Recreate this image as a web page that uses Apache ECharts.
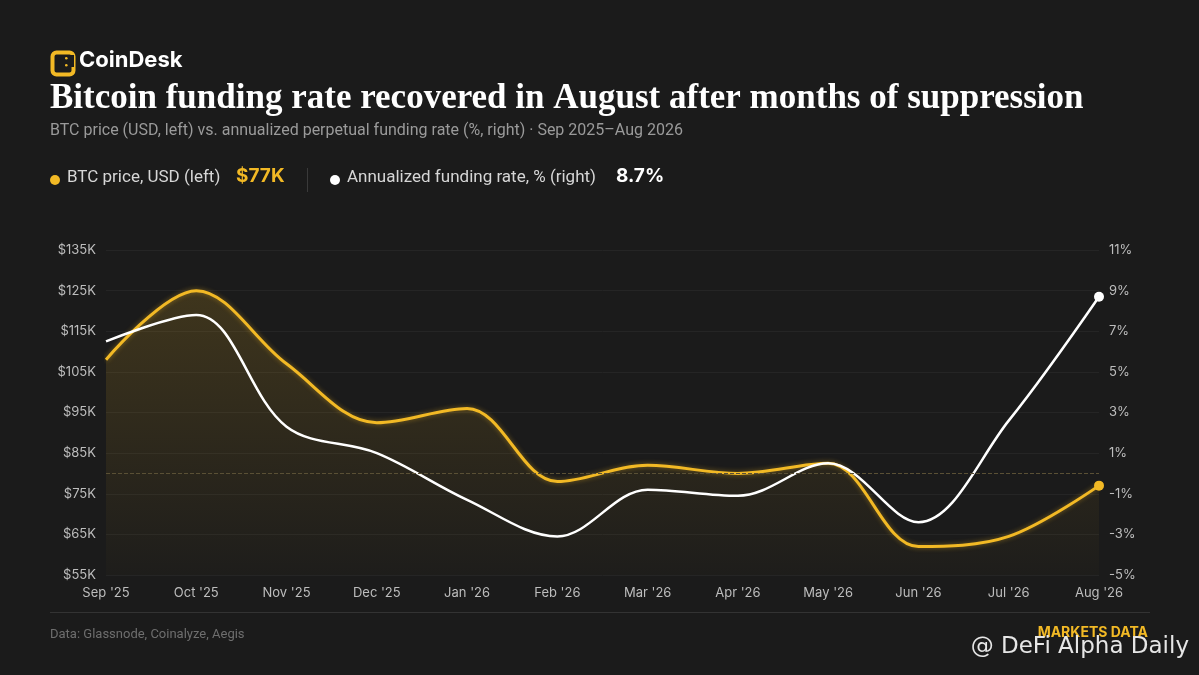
<!DOCTYPE html>
<html>
<head>
<meta charset="utf-8">
<script src="https://cdn.jsdelivr.net/npm/echarts@6/dist/echarts.min.js"></script>
<style>
  html, body { margin: 0; padding: 0; background: #1b1b1b; }
  #chart { width: 1199px; height: 675px; }
</style>
</head>
<body>
<div id="chart"></div>
<script>
// months on the x axis
var months = ["Sep '25", "Oct '25", "Nov '25", "Dec '25", "Jan '26", "Feb '26",
  "Mar '26", "Apr '26", "May '26", "Jun '26", "Jul '26", "Aug '26"];
// BTC price in thousands of USD (left axis)
var btcPrice = [108, 125, 107, 92.5, 96, 78, 82, 80, 82.5, 62, 64.5, 77];
// annualized funding rate in % (right axis)
var fundingRate = [6.5, 7.8, 2.3, 1.0, -1.3, -3.1, -0.8, -1.1, 0.5, -2.4, 2.6, 8.7];

var gold = '#f2b925';
var titleText = 'Bitcoin funding rate recovered in August after months of suppression';

// fit the serif title to the width it has in the original (~1033px)
var ctx = document.createElement('canvas').getContext('2d');
var titleSize = 37;
while (titleSize > 20) {
  ctx.font = 'bold ' + titleSize + 'px "Liberation Serif", serif';
  if (ctx.measureText(titleText).width <= 1034) break;
  titleSize -= 0.25;
}

var mychart = echarts.init(document.getElementById('chart'));
var last = months.length - 1;

function lastDot(arr) {
  return arr.map(function (v, i) {
    return i === last ? { value: v, symbol: 'circle', symbolSize: 10 } : v;
  });
}

var option = {
  backgroundColor: '#1b1b1b',
  animation: false,
  textStyle: { fontFamily: 'Inter, Roboto, sans-serif' },
  grid: { left: 106, right: 100, top: 250, bottom: 100 },
  xAxis: {
    type: 'category',
    data: months,
    boundaryGap: false,
    axisLine: { show: false },
    axisTick: { show: false },
    axisLabel: { color: '#bdbdbd', fontSize: 13, margin: 12 }
  },
  yAxis: [
    {
      type: 'value',
      min: 55, max: 135, interval: 10,
      axisLabel: { color: '#bdbdbd', fontSize: 13, margin: 10, formatter: function (v) { return '$' + v + 'K'; } },
      axisLine: { show: false },
      axisTick: { show: false },
      splitLine: { lineStyle: { color: '#252525', width: 1 } }
    },
    {
      type: 'value',
      min: -5, max: 11, interval: 2,
      axisLabel: { color: '#bdbdbd', fontSize: 13, margin: 10, formatter: '{value}%' },
      axisLine: { show: false },
      axisTick: { show: false },
      splitLine: { show: false }
    }
  ],
  series: [
    {
      name: 'BTC price, USD (left)',
      type: 'line',
      yAxisIndex: 0,
      smooth: 0.35,
      data: lastDot(btcPrice),
      symbol: 'none',
      itemStyle: { color: gold },
      lineStyle: { color: gold, width: 3, shadowColor: 'rgba(242,185,37,0.45)', shadowBlur: 5 },
      areaStyle: {
        color: new echarts.graphic.LinearGradient(0, 0, 0, 1, [
          { offset: 0, color: 'rgba(242,185,37,0.24)' },
          { offset: 1, color: 'rgba(242,185,37,0.02)' }
        ])
      },
      z: 2
    },
    {
      name: 'Annualized funding rate, % (right)',
      type: 'line',
      yAxisIndex: 1,
      smooth: 0.35,
      data: lastDot(fundingRate),
      symbol: 'none',
      itemStyle: { color: '#ffffff' },
      lineStyle: { color: '#ffffff', width: 2.5 },
      markLine: {
        silent: true,
        symbol: 'none',
        label: { show: false },
        lineStyle: { color: '#5a5035', type: 'dashed', width: 1 },
        data: [{ yAxis: 0 }]
      },
      z: 3
    }
  ],
  graphic: [
    // logo
    { type: 'rect', left: 50, top: 50, shape: { width: 21, height: 22, r: 4 }, style: { fill: 'none', stroke: gold, lineWidth: 4 } },
    { type: 'rect', left: 62, top: 55, shape: { width: 12, height: 12 }, style: { fill: '#1b1b1b' } },
    { type: 'circle', left: 65, top: 57, shape: { r: 1.3 }, style: { fill: gold } },
    { type: 'circle', left: 65, top: 64, shape: { r: 1.3 }, style: { fill: gold } },
    { type: 'text', left: 79, top: 49, style: { text: 'CoinDesk', fill: '#ffffff', font: 'bold 22px Inter, Roboto, sans-serif' } },
    // title
    { type: 'text', left: 50, top: 81, style: { text: titleText, fill: '#ffffff', font: 'bold ' + titleSize + 'px "Liberation Serif", serif' } },
    { type: 'text', left: 50, top: 123, style: { text: 'BTC price (USD, left) vs. annualized perpetual funding rate (%, right) · Sep 2025–Aug 2026', fill: '#9a9a9a', font: '16px Roboto, sans-serif' } },
    // legend row
    { type: 'circle', left: 50, top: 175, shape: { r: 5 }, style: { fill: gold } },
    { type: 'text', left: 67, top: 169, style: { text: 'BTC price, USD (left)', fill: '#d6d6d6', font: '17px Roboto, sans-serif' } },
    { type: 'text', left: 236, top: 167, style: { text: '$77K', fill: gold, font: 'bold 19px Inter, Roboto, sans-serif' } },
    { type: 'rect', left: 307, top: 168, shape: { width: 1, height: 24 }, style: { fill: '#3a3a3a' } },
    { type: 'circle', left: 330, top: 175, shape: { r: 5 }, style: { fill: '#ffffff' } },
    { type: 'text', left: 347, top: 169, style: { text: 'Annualized funding rate, % (right)', fill: '#d6d6d6', font: '17px Roboto, sans-serif' } },
    { type: 'text', left: 616, top: 167, style: { text: '8.7%', fill: '#ffffff', font: 'bold 19px Inter, Roboto, sans-serif' } },
    // footer
    { type: 'rect', left: 50, top: 612, shape: { width: 1100, height: 1 }, style: { fill: '#333333' } },
    { type: 'text', left: 50, top: 628, style: { text: 'Data: Glassnode, Coinalyze, Aegis', fill: '#6e6e6e', font: '13px Roboto, sans-serif' } },
    { type: 'text', right: 51, top: 626, style: { text: 'MARKETS DATA', fill: gold, font: 'bold 14px Inter, Roboto, sans-serif' } },
    { type: 'text', right: 10, top: 636, style: { text: '@ DeFi Alpha Daily', fill: '#e6e6e6', font: '23px "DejaVu Sans", sans-serif' } }
  ]
};

mychart.setOption(option);
</script>
</body>
</html>
